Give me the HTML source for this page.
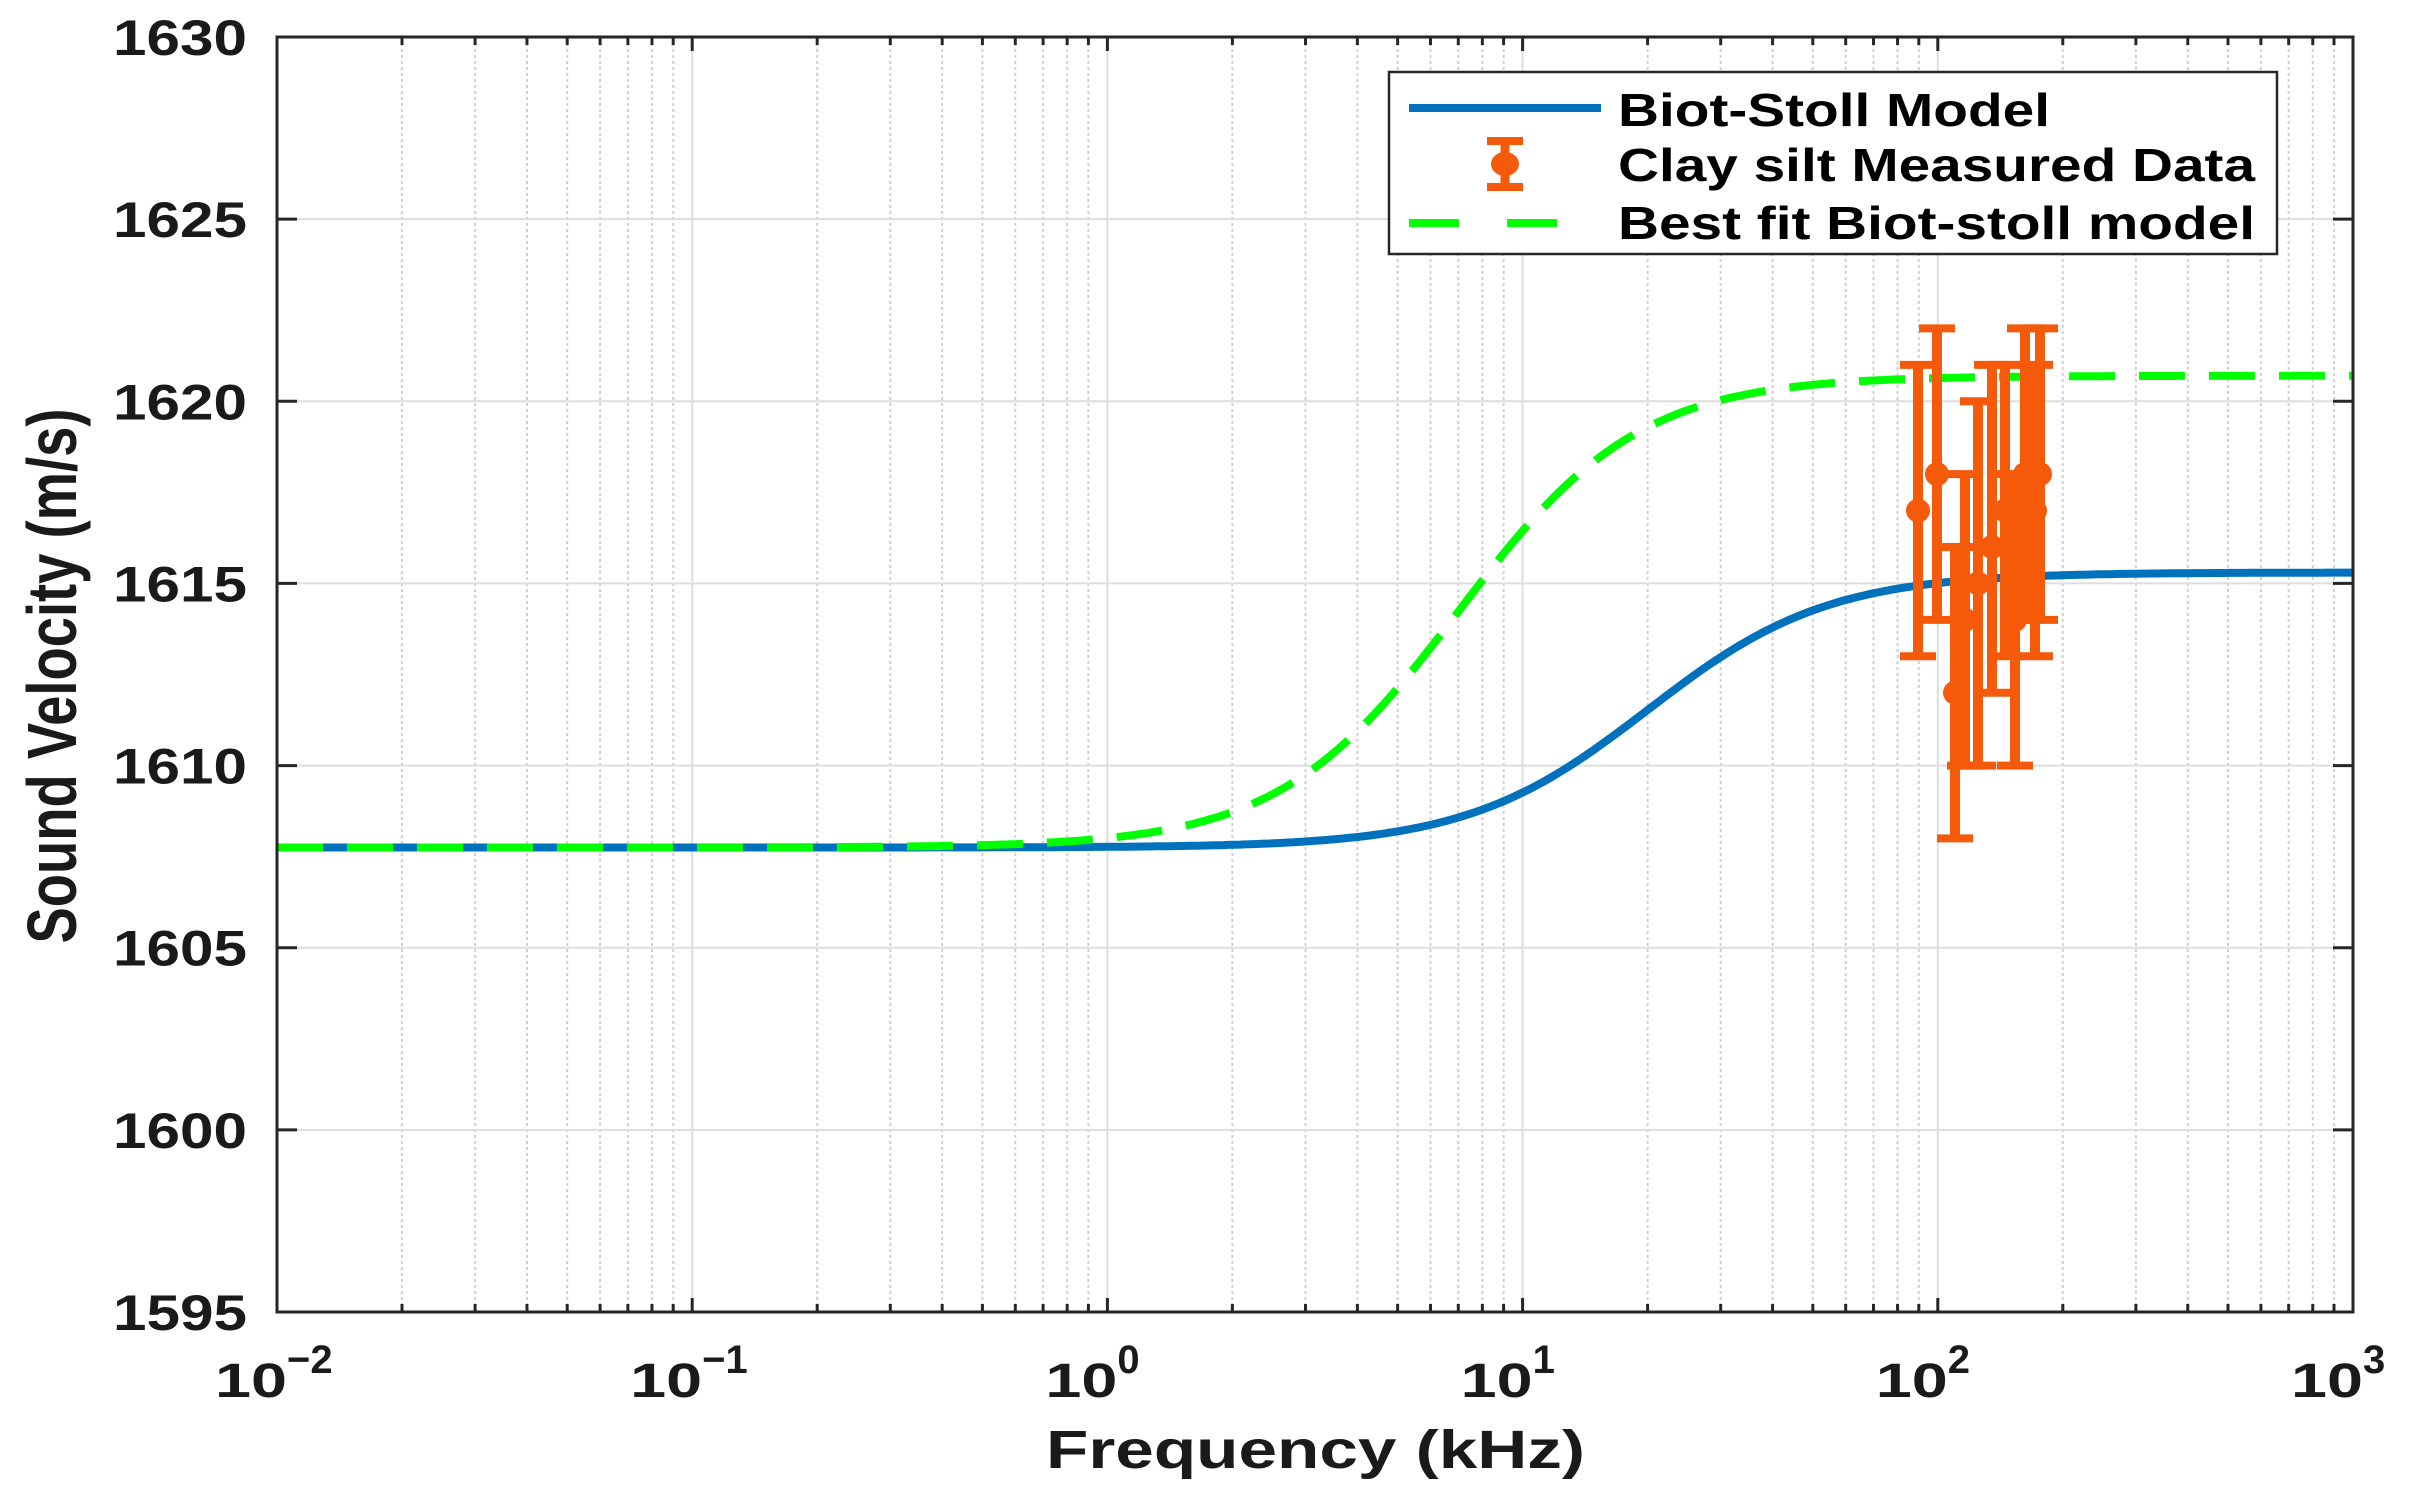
<!DOCTYPE html>
<html><head><meta charset="utf-8"><style>html,body{margin:0;padding:0;background:#fff}svg{display:block}</style></head>
<body>
<svg id="s" width="2415" height="1504" viewBox="0 0 2415 1504" xmlns="http://www.w3.org/2000/svg" font-family="Liberation Sans, Arial, sans-serif" font-weight="bold">
<rect width="2415" height="1504" fill="#fff"/>
<g id="grid"></g>
<g id="series"></g>
<rect x="277" y="37" width="2076" height="1275" fill="none" stroke="#262626" stroke-width="3"/>
<g id="ticks"></g>
<g id="labels" fill="#1a1a1a"></g>
<text x="1046" y="1468" font-size="54" textLength="539" lengthAdjust="spacingAndGlyphs" fill="#1a1a1a">Frequency (kHz)</text>
<text transform="translate(76,676) rotate(-90) scale(1,1.25)" text-anchor="middle" font-size="56" textLength="535" lengthAdjust="spacingAndGlyphs" fill="#1a1a1a">Sound Velocity (m/s)</text>
<g id="legend">
<rect x="1389" y="72" width="888" height="182" fill="#fff" stroke="#262626" stroke-width="2.5"/>
<line x1="1409" y1="108" x2="1601" y2="108" stroke="#0072BD" stroke-width="8"/>
<line x1="1505" y1="141" x2="1505" y2="187" stroke="#F55A0B" stroke-width="9"/>
<line x1="1487" y1="141" x2="1523" y2="141" stroke="#F55A0B" stroke-width="8"/>
<line x1="1487" y1="187" x2="1523" y2="187" stroke="#F55A0B" stroke-width="8"/>
<ellipse cx="1505" cy="164" rx="14" ry="12" fill="#F55A0B"/>
<line x1="1409" y1="223" x2="1601" y2="223" stroke="#00FF00" stroke-width="8" stroke-dasharray="50,48"/>
<text x="1618" y="126" font-size="46" textLength="432" lengthAdjust="spacingAndGlyphs">Biot-Stoll Model</text>
<text x="1618" y="181" font-size="46" textLength="637" lengthAdjust="spacingAndGlyphs">Clay silt Measured Data</text>
<text x="1618" y="239" font-size="46" textLength="637" lengthAdjust="spacingAndGlyphs">Best fit Biot-stoll model</text>
</g>
</svg>
<script>
var NS="http://www.w3.org/2000/svg";
function el(p,t,a,txt){var e=document.createElementNS(NS,t);for(var k in a)e.setAttribute(k,a[k]);if(txt!=null)e.textContent=txt;document.getElementById(p).appendChild(e);return e;}
var L=277,R=2353,T=37,B=1312,D=(R-L)/5;
function X(f){return L+(Math.log10(f)+2)*D;}
function Y(v){return T+(1630-v)*(B-T)/35;}
for(var d=-2;d<3;d++){for(var m=1;m<10;m++){var f=m*Math.pow(10,d);var x=X(f);
 if(m==1){if(d>-2)el("grid","line",{x1:x,y1:T,x2:x,y2:B,stroke:"#dedede","stroke-width":2});}
 else el("grid","line",{x1:x,y1:T,x2:x,y2:B,stroke:"#d0d0d0","stroke-width":2,"stroke-dasharray":"3,3"});
 var tl=m==1?14:8;
 el("ticks","line",{x1:x,y1:B,x2:x,y2:B-tl,stroke:"#262626","stroke-width":3});
 el("ticks","line",{x1:x,y1:T,x2:x,y2:T+tl,stroke:"#262626","stroke-width":3});
}}
for(var v=1595;v<=1630;v+=5){var y=Y(v);
 if(v>1595&&v<1630)el("grid","line",{x1:L,y1:y,x2:R,y2:y,stroke:"#dedede","stroke-width":2});
 el("ticks","line",{x1:L,y1:y,x2:L+20,y2:y,stroke:"#262626","stroke-width":3});
 el("ticks","line",{x1:R,y1:y,x2:R-20,y2:y,stroke:"#262626","stroke-width":3});
 el("labels","text",{x:247,y:y+18,"font-size":50,"text-anchor":"end",textLength:134,lengthAdjust:"spacingAndGlyphs"},String(v));
}
var ex=["\u22122","\u22121","0","1","2","3"];
for(var i=0;i<6;i++){var x=L+i*D;
 var t=el("labels","text",{x:x-62,y:1397,"font-size":48},null);
 var a=document.createElementNS(NS,"tspan");a.textContent="10";a.setAttribute("textLength","72");a.setAttribute("lengthAdjust","spacingAndGlyphs");t.appendChild(a);
 var b=document.createElementNS(NS,"tspan");b.textContent=ex[i];b.setAttribute("dy","-24");b.setAttribute("font-size","40");t.appendChild(b);
}
function curve(v0,vi,fc){var p="";for(var k=0;k<=500;k++){var lf=-2+5*k/500,f=Math.pow(10,lf),r=(f/fc)*(f/fc);var v=v0+(vi-v0)*r/(1+r);p+=(k?"L":"M")+X(f).toFixed(1)+","+Y(v).toFixed(1);}return p;}
el("series","path",{d:curve(1607.75,1615.3,20),fill:"none",stroke:"#0072BD","stroke-width":8});
el("series","path",{d:curve(1607.75,1620.7,7),fill:"none",stroke:"#00FF00","stroke-width":8,"stroke-dasharray":"46,24"});
var bars=[[1918,1613,1621,1617],[1937,1614,1622,1618],[1955,1608,1616,1612],[1965,1610,1618,1614],[1978,1610,1620,1615],[1992,1612,1621,1616],[2005,1613,1621,1617],[2015,1610,1618,1614],[2025,1614,1622,1618],[2035,1613,1621,1617],[2040,1614,1622,1618]];
bars.forEach(function(b){var c="#F55A0B";
 el("series","line",{x1:b[0],y1:Y(b[1]),x2:b[0],y2:Y(b[2]),stroke:c,"stroke-width":10});
 el("series","line",{x1:b[0]-18,y1:Y(b[1]),x2:b[0]+18,y2:Y(b[1]),stroke:c,"stroke-width":8});
 el("series","line",{x1:b[0]-18,y1:Y(b[2]),x2:b[0]+18,y2:Y(b[2]),stroke:c,"stroke-width":8});
 el("series","circle",{cx:b[0],cy:Y(b[3]),r:12,fill:c});
});
</script>
</body></html>
